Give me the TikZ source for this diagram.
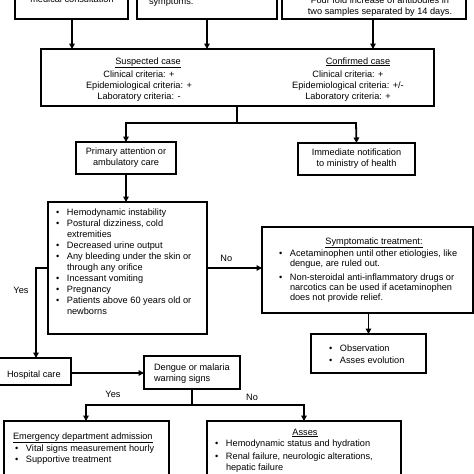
\documentclass[tikz,border=0pt]{standalone}
\usepackage{fontspec}
\setmainfont{Liberation Sans}
\usetikzlibrary{arrows.meta}
\newcommand{\bl}{\makebox[11pt][l]{\textbullet}}
\tikzset{
  box/.style={draw, line width=1.5pt, inner sep=0pt, outer sep=0pt, anchor=north west},
  txt/.style={inner sep=0pt, outer sep=0pt, font=\fontsize{9.2}{11}\selectfont},
  conn/.style={line width=1.8pt},
  arr/.style={line width=1.8pt, -{Triangle[length=5.5pt,width=5.5pt]}},
  lab/.style={inner sep=0pt, font=\fontsize{9.2}{11}\selectfont}
}
\begin{document}
\begin{tikzpicture}[x=1pt,y=-1pt]
\useasboundingbox (0,0) rectangle (474,474);
\begin{scope}
\clip (0,0) rectangle (474,474);
% top boxes
\node[box, minimum width=113pt, minimum height=40pt] (tl) at (15,-21) {};
\node[box, minimum width=140pt, minimum height=40pt] (tm) at (137,-21) {};
\node[box, minimum width=184pt, minimum height=40pt] (tr) at (282,-21) {};
\node[txt, anchor=base] at (72,2) {medical consultation};
\node[txt, anchor=base west] at (149,4) {symptoms.};
\node[txt, anchor=base] at (380,3) {Four fold increase of antibodies in};
\node[txt, anchor=base] at (380,14.5) {two samples separated by 14 days.};

% case box
\node[box, minimum width=393pt, minimum height=57pt] (case) at (41,49) {};
\node[txt, anchor=base] at (148,64) {\underline{Suspected case}};
\node[txt, anchor=base] at (139,77) {Clinical criteria: +};
\node[txt, anchor=base] at (139,88) {Epidemiological criteria: +};
\node[txt, anchor=base] at (139,99) {Laboratory criteria: -};
\node[txt, anchor=base] at (358,64) {\underline{Confirmed case}};
\node[txt, anchor=base] at (348,77) {Clinical criteria: +};
\node[txt, anchor=base] at (348,88) {Epidemiological criteria: +/-};
\node[txt, anchor=base] at (348,99) {Laboratory criteria: +};

\draw[arr] (tl.south -| 72,0) -- (case.north -| 72,0);
\draw[arr] (tm.south -| 207,0) -- (case.north -| 207,0);
\draw[arr] (tr.south -| 373,0) -- (case.north -| 373,0);

% primary / notification
\node[box, minimum width=100pt, minimum height=32pt] (prim) at (76,142) {};
\node[txt, anchor=center, align=center] at (prim.center) {Primary attention or\\ambulatory care};
\node[box, minimum width=117pt, minimum height=32pt] (noti) at (298,143) {};
\node[txt, anchor=center, align=center] at (noti.center) {Immediate notification\\to ministry of health};

\coordinate (split) at (237,123);
\draw[conn] (case.south -| split) -- (split);
\draw[arr] (split) -- (126,123) -- (prim.north);
\draw[arr] (split) -- (356,123) -- (noti.north);

% symptoms box
\node[box, minimum width=159pt, minimum height=132pt] (symp) at (48,202) {};
\node[txt, anchor=base west] at (56,215) {\begin{tabular}[t]{@{}l@{}l@{}}
\bl & Hemodynamic instability\\
\bl & Postural dizziness, cold\\
 & extremities\\
\bl & Decreased urine output\\
\bl & Any bleeding under the skin or\\
 & through any orifice\\
\bl & Incessant vomiting\\
\bl & Pregnancy\\
\bl & Patients above 60 years old or\\
 & newborns
\end{tabular}};
\draw[arr] (prim.south) -- (symp.north -| prim.south);

% symptomatic treatment
\node[box, minimum width=211pt, minimum height=86pt] (symt) at (262,227) {};
\node[txt, anchor=base] at (374,244) {\underline{Symptomatic treatment:}};
\node[txt, anchor=base west, font=\fontsize{9.2}{10}\selectfont] at (279,256) {\begin{tabular}[t]{@{}l@{}l@{}}
\bl & Acetaminophen until other etiologies, like\\
 & dengue, are ruled out.\\[4.5pt]
\bl & Non-steroidal anti-inflammatory drugs or\\
 & narcotics can be used if acetaminophen\\
 & does not provide relief.
\end{tabular}};
\draw[arr] (symp.east |- 0,268) -- (symt.west |- 0,268) node[lab, pos=0.35, above=6pt] {No};

% observation
\node[box, minimum width=115pt, minimum height=39pt] (obs) at (311,334) {};
\node[txt, anchor=base west, font=\fontsize{9.2}{12.5}\selectfont] at (329,351) {\begin{tabular}[t]{@{}l@{}l@{}}
\bl & Observation\\
\bl & Asses evolution
\end{tabular}};
\draw[arr] (symt.south -| obs.north) -- (obs.north);

% hospital care
\node[box, minimum width=80pt, minimum height=27pt] (hosp) at (-9,358) {};
\node[txt, anchor=base west] at (7,377) {Hospital care};
\coordinate (ybend) at (36,268);
\draw[arr] (symp.west |- ybend) -- (ybend) -- (hosp.north -| ybend);
\node[lab] at (21,290) {Yes};

% dengue
\node[box, minimum width=96pt, minimum height=33pt] (deng) at (144,356) {};
\node[txt, anchor=base west] at (154,370) {Dengue or malaria};
\node[txt, anchor=base west] at (154,381) {warning signs};
\draw[arr] (hosp.east |- 0,373) -- (deng.west |- 0,373);

% emergency and asses
\node[box, minimum width=165pt, minimum height=70pt] (emer) at (4,421) {};
\node[txt, anchor=base west] at (13,439) {\underline{Emergency department admission}};
\node[txt, anchor=base west] at (15,451) {\begin{tabular}[t]{@{}l@{}l@{}}
\bl & Vital signs measurement hourly\\
\bl & Supportive treatment
\end{tabular}};
\node[box, minimum width=194pt, minimum height=70pt] (asse) at (207,421) {};
\node[txt, anchor=base] at (305,435) {\underline{Asses}};
\node[txt, anchor=base west] at (215,446.5) {\begin{tabular}[t]{@{}l@{}l@{}}
\bl & Hemodynamic status and hydration\\[1.5pt]
\bl & Renal failure, neurologic alterations,\\
 & hepatic failure
\end{tabular}};

\coordinate (dsplit) at (192,405);
\draw[conn] (deng.south -| dsplit) -- (dsplit);
\draw[arr] (dsplit) -- (86,405) -- (emer.north -| 86,0);
\draw[arr] (dsplit) -- (304,405) -- (asse.north -| 304,0);
\node[lab] at (113,394) {Yes};
\node[lab] at (252,397) {No};
\end{scope}
\end{tikzpicture}
\end{document}
